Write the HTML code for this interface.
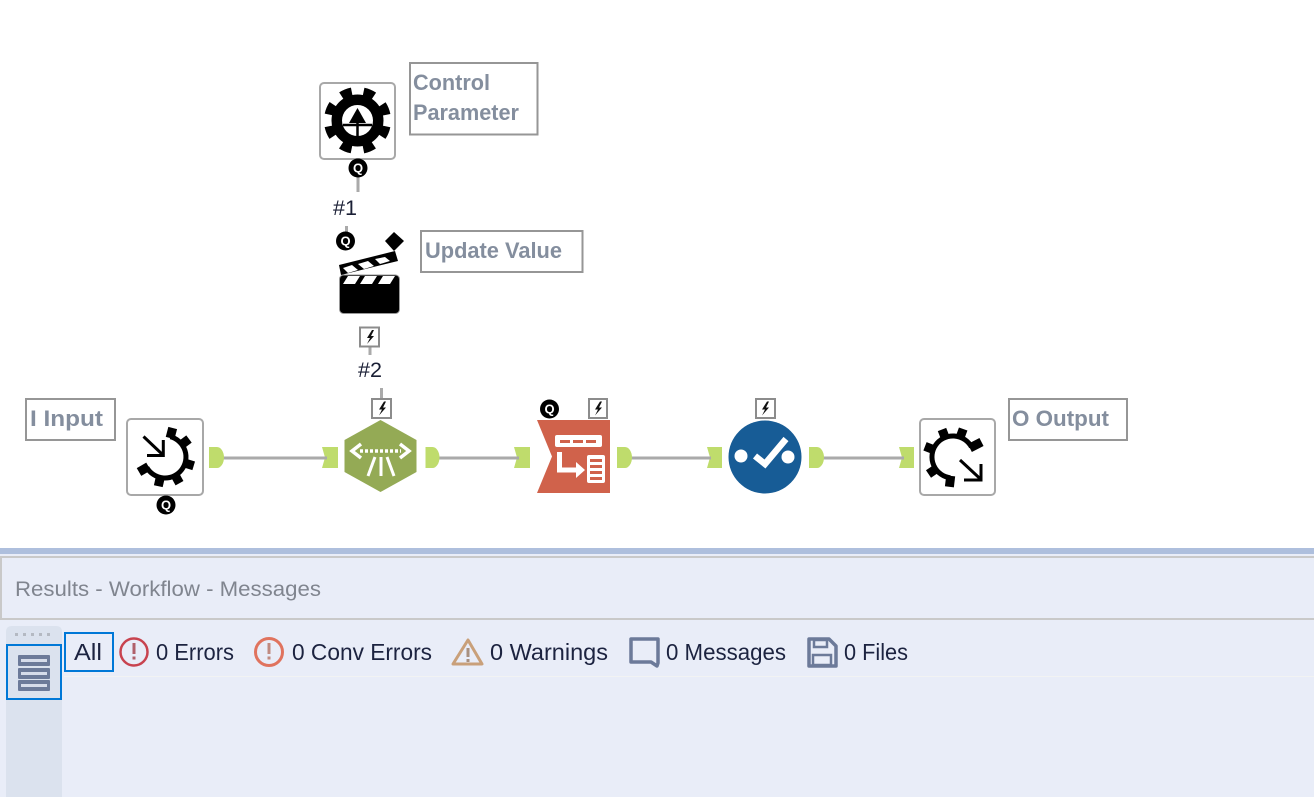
<!DOCTYPE html>
<html>
<head>
<meta charset="utf-8">
<style>
html,body{margin:0;padding:0;background:#fff;width:1314px;height:797px;overflow:hidden}
svg{display:block}
text{font-family:"Liberation Sans",sans-serif}
.lb{font-size:22px;font-weight:bold;fill:#848e9e}
.st{font-size:23px;fill:#1c2340}
.n{font-size:21px;fill:#1a1f35}
.q{font-size:13px;font-weight:bold;fill:#fff;text-anchor:middle}
</style>
</head>
<body>
<svg width="1314" height="797" viewBox="0 0 1314 797" xmlns="http://www.w3.org/2000/svg">
<rect width="1314" height="797" fill="#fff"/>

<!-- connectors -->
<g stroke="#aaaaaa" stroke-width="3" fill="none">
<line x1="222" y1="458" x2="327" y2="458"/>
<line x1="438" y1="458" x2="519" y2="458"/>
<line x1="631" y1="458" x2="711" y2="458"/>
<line x1="823" y1="458" x2="904" y2="458"/>
<line x1="358" y1="177" x2="358" y2="192"/>
<line x1="346.5" y1="226" x2="346.5" y2="233"/>
<line x1="370" y1="347" x2="370" y2="355"/>
<line x1="381.5" y1="388" x2="381.5" y2="399"/>
</g>

<!-- ports -->
<g fill="#bfdc6c">
<path d="M209 447h8a7 10.500 0 0 1 0 21h-8z"/>
<path d="M425.500 447h7a7 10.500 0 0 1 0 21h-7z"/>
<path d="M617 447h8a7 10.500 0 0 1 0 21h-8z"/>
<path d="M809 447h8a7 10.500 0 0 1 0 21h-8z"/>
<path d="M322 447h16v21h-16l3-10.500z"/>
<path d="M514 447h16v21h-16l3-10.500z"/>
<path d="M707 447h15v21h-15l3-10.500z"/>
<path d="M899 447h15v21h-15l3-10.500z"/>
</g>
<g stroke="#aaaaaa" stroke-width="3">
<line x1="322" y1="458" x2="327" y2="458"/>
<line x1="514" y1="458" x2="519" y2="458"/>
<line x1="707" y1="458" x2="711" y2="458"/>
<line x1="899" y1="458" x2="904" y2="458"/>
</g>

<!-- control parameter tool -->
<rect x="320" y="83" width="75" height="76" rx="4" fill="#fff" stroke="#a8a8a8" stroke-width="2"/>
<circle cx="357.500" cy="120.500" r="26" fill="#000"/>
<circle cx="357.500" cy="120.500" r="29" fill="none" stroke="#000" stroke-width="9" stroke-dasharray="11 11.770" transform="rotate(11.600 357.500 120.500)"/>
<circle cx="357.500" cy="120.500" r="15.500" fill="#fff"/>
<polygon points="357.500,108 366,123 349,123" fill="#000"/>
<g stroke="#000" stroke-width="2.500"><line x1="343" y1="125" x2="372" y2="125"/><line x1="357.500" y1="123" x2="357.500" y2="136"/></g>

<!-- clapperboard -->
<rect x="339.500" y="275" width="60" height="38.500" rx="4" fill="#000" stroke="#999" stroke-width="1"/>
<g fill="#fff">
<polygon points="343,284 348,276 360,276 355,284"/>
<polygon points="360,284 365,276 377,276 372,284"/>
<polygon points="378,284 383,276 395,276 390,284"/>
</g>
<polygon points="339,265 395,251 398,261 341,275" fill="#000"/>
<g fill="#fff">
<polygon points="343,268 352,265 358,270 348,273"/>
<polygon points="358,264 368,261 374,266 364,269"/>
<polygon points="375,259 385,257 390,261 380,264"/>
</g>
<polygon points="394,232 404,241 394,251 385,241" fill="#000"/>

<!-- hexagon -->
<polygon points="380.500,420 416.500,440 416.500,472 380.500,492 344.500,472 344.500,440" fill="#94aa55"/>
<g fill="none" stroke="#fff" stroke-width="3.500">
<polyline points="361,444 352,451 361,458"/>
<polyline points="400,444 409,451 400,458"/>
<line x1="360" y1="451" x2="401" y2="451" stroke-width="3.500" stroke-dasharray="3 2"/>
<line x1="375" y1="457" x2="368" y2="476" stroke-width="3"/>
<line x1="381" y1="457" x2="381" y2="476" stroke-width="3"/>
<line x1="387" y1="457" x2="394" y2="476" stroke-width="3"/>
</g>

<!-- red tool -->
<polygon points="537,420 610,420 610,493 537,493 552,456.500" fill="#d0624b"/>
<rect x="555" y="435" width="47" height="12" rx="2" fill="#fff"/>
<g fill="#d0624b"><rect x="560" y="440" width="10" height="3"/><rect x="573" y="440" width="10" height="3"/><rect x="586" y="440" width="10" height="3"/></g>
<polyline points="559.500,452 559.500,470 578,470" fill="none" stroke="#fff" stroke-width="5"/>
<polygon points="576,462 585,470 576,478" fill="#fff"/>
<rect x="587" y="455" width="18" height="28" rx="2" fill="#fff"/>
<g fill="#d0624b"><rect x="590" y="459" width="12" height="3"/><rect x="590" y="465" width="12" height="3"/><rect x="590" y="471" width="12" height="3"/><rect x="590" y="477" width="12" height="3"/></g>

<!-- blue tool -->
<circle cx="765" cy="457" r="36.500" fill="#175c96"/>
<circle cx="741" cy="456" r="6.500" fill="#fff"/>
<circle cx="788" cy="457" r="6.500" fill="#fff"/>
<polyline points="755,456 765,464 786,439" fill="none" stroke="#fff" stroke-width="6.500"/>

<!-- input gear -->
<rect x="127" y="419" width="76" height="76" rx="4" fill="#fff" stroke="#a8a8a8" stroke-width="2"/>
<path d="M170.400 436.700A21 21 0 1 1 146.800 467.500" fill="none" stroke="#000" stroke-width="5"/>
<g stroke="#000" stroke-width="9">
<line x1="170.100" y1="438" x2="172.700" y2="428"/>
<line x1="180.200" y1="445.600" x2="189" y2="439"/>
<line x1="183.200" y1="462.600" x2="193.700" y2="465.800"/>
<line x1="174.200" y1="473.600" x2="179.500" y2="483.200"/>
<line x1="160.700" y1="475.500" x2="158.300" y2="486.200"/>
<line x1="148.500" y1="466.500" x2="139" y2="472"/>
</g>
<g fill="none" stroke="#000" stroke-width="3">
<line x1="143.500" y1="436.500" x2="163" y2="455"/>
<polyline points="163.300,440 163.300,455.500 147,455.500"/>
</g>

<!-- output gear -->
<rect x="920" y="419" width="75" height="76" rx="4" fill="#fff" stroke="#a8a8a8" stroke-width="2"/>
<path d="M971.500 447.100A21 21 0 1 0 950.400 477.800" fill="none" stroke="#000" stroke-width="5"/>
<g stroke="#000" stroke-width="9">
<line x1="945.500" y1="438.500" x2="942" y2="429.500"/>
<line x1="959.800" y1="438.200" x2="963.200" y2="429"/>
<line x1="969.800" y1="448" x2="981.500" y2="442"/>
<line x1="935.300" y1="450.300" x2="925" y2="446.300"/>
<line x1="937.500" y1="467.900" x2="928.500" y2="474"/>
<line x1="950.700" y1="475.900" x2="949.400" y2="486.800"/>
</g>
<g fill="none" stroke="#000" stroke-width="3">
<line x1="960" y1="460" x2="981" y2="479.500"/>
<polyline points="981,464 981,480 964,480"/>
</g>

<!-- Q badges -->
<g fill="#000"><circle cx="358" cy="168" r="9.500"/><circle cx="345.500" cy="241" r="9.500"/><circle cx="549.500" cy="409" r="9.500"/><circle cx="166" cy="505" r="9.500"/></g>
<text class="q" x="358" y="172.500">Q</text>
<text class="q" x="345.500" y="245.500">Q</text>
<text class="q" x="549.500" y="413.500">Q</text>
<text class="q" x="166" y="509.500">Q</text>

<!-- bolt badges -->
<g fill="#fff" stroke="#8c8c8c" stroke-width="2">
<rect x="360" y="327.500" width="19" height="19"/>
<rect x="372" y="399" width="19" height="19"/>
<rect x="589" y="399" width="18" height="19"/>
<rect x="756" y="399" width="19" height="19"/>
</g>
<g fill="#111">
<polygon points="372,330 367,338 370,338 367,344 374,336 371,336 374,330"/>
<polygon points="384,401.500 379,409.500 382,409.500 379,415.500 386,407.500 383,407.500 386,401.500"/>
<polygon points="600,401.500 595,409.500 598,409.500 595,415.500 602,407.500 599,407.500 602,401.500"/>
<polygon points="767,401.500 762,409.500 765,409.500 762,415.500 769,407.500 766,407.500 769,401.500"/>
</g>

<!-- numbers -->
<text class="n" x="333" y="215" textLength="24" lengthAdjust="spacingAndGlyphs">#1</text>
<text class="n" x="358" y="377" textLength="24" lengthAdjust="spacingAndGlyphs">#2</text>

<!-- annotation boxes -->
<g fill="#fff" stroke="#969696" stroke-width="2">
<rect x="410" y="63" width="127.500" height="71.500"/>
<rect x="421" y="231" width="161.500" height="41"/>
<rect x="26" y="399" width="89" height="41"/>
<rect x="1009" y="399" width="118" height="41"/>
</g>
<text class="lb" x="413" y="90" textLength="77" lengthAdjust="spacingAndGlyphs">Control</text>
<text class="lb" x="413" y="120" textLength="106" lengthAdjust="spacingAndGlyphs">Parameter</text>
<text class="lb" x="425" y="258" textLength="137" lengthAdjust="spacingAndGlyphs">Update Value</text>
<text class="lb" x="30" y="426" textLength="73" lengthAdjust="spacingAndGlyphs">I Input</text>
<text class="lb" x="1012" y="426" textLength="97" lengthAdjust="spacingAndGlyphs">O Output</text>

<!-- bottom panel -->
<rect x="0" y="548" width="1314" height="249" fill="#e9edf8"/>
<rect x="0" y="548" width="1314" height="6" fill="#aebfdd"/>
<rect x="0" y="556" width="1314" height="2" fill="#c9c9c9"/>
<rect x="0" y="618" width="1314" height="2" fill="#c9c9c9"/>
<rect x="0" y="556" width="2" height="62" fill="#c9c9c9"/>
<text x="15" y="596" font-size="21" fill="#80858f" textLength="306" lengthAdjust="spacingAndGlyphs">Results - Workflow - Messages</text>

<path d="M6 797V632q0-6 6-6h44q6 0 6 6V797z" fill="#dbe2ee"/>
<g fill="#b4b9c2"><rect x="15" y="633" width="3" height="3"/><rect x="23" y="633" width="3" height="3"/><rect x="31" y="633" width="3" height="3"/><rect x="39" y="633" width="3" height="3"/><rect x="47" y="633" width="3" height="3"/></g>
<rect x="7" y="645" width="54" height="54" fill="none" stroke="#0078d7" stroke-width="2"/>
<g fill="#6c7a99">
<rect x="18" y="655" width="32" height="11" rx="1"/>
<rect x="18" y="668" width="32" height="11" rx="1"/>
<rect x="18" y="680" width="32" height="11" rx="1"/>
</g>
<g fill="#d6dcea">
<rect x="21" y="659" width="26" height="3"/>
<rect x="21" y="672" width="26" height="3"/>
<rect x="21" y="684" width="26" height="3"/>
</g>
<rect x="65" y="633" width="48" height="38" fill="none" stroke="#0078d7" stroke-width="2"/>
<rect x="64" y="676" width="1250" height="1" fill="#f2f3f3"/>

<text class="st" x="74" y="660" textLength="28" lengthAdjust="spacingAndGlyphs">All</text>
<text class="st" x="156" y="660" textLength="78" lengthAdjust="spacingAndGlyphs">0 Errors</text>
<text class="st" x="292" y="660" textLength="140" lengthAdjust="spacingAndGlyphs">0 Conv Errors</text>
<text class="st" x="490" y="660" textLength="118" lengthAdjust="spacingAndGlyphs">0 Warnings</text>
<text class="st" x="666" y="660" textLength="120" lengthAdjust="spacingAndGlyphs">0 Messages</text>
<text class="st" x="844" y="660" textLength="64" lengthAdjust="spacingAndGlyphs">0 Files</text>

<!-- status icons -->
<circle cx="134" cy="652" r="13.500" fill="none" stroke="#c8434f" stroke-width="2.500"/>
<rect x="132.500" y="643" width="3" height="11" fill="#b0606a"/><rect x="132.500" y="656.500" width="3" height="3" fill="#b0606a"/>
<circle cx="269" cy="652" r="13.500" fill="none" stroke="#e0735e" stroke-width="3"/>
<rect x="267.500" y="643" width="3" height="11" fill="#c08a80"/><rect x="267.500" y="656.500" width="3" height="3" fill="#c08a80"/>
<polygon points="468,640 482,664 453,664" fill="none" stroke="#c9a07a" stroke-width="3" stroke-linejoin="round"/>
<rect x="466.500" y="648" width="3" height="9" fill="#a89080"/><rect x="466.500" y="659" width="3" height="3" fill="#a89080"/>
<path d="M631 639h27v24l-1 3-6-4h-20z" fill="none" stroke="#6c7a99" stroke-width="3.500" stroke-linejoin="round"/>
<path d="M809 639h20l7 7v20h-27z" fill="none" stroke="#6c7a99" stroke-width="3.500" stroke-linejoin="round"/>
<rect x="814" y="640" width="13" height="7" fill="none" stroke="#6c7a99" stroke-width="2.500"/>
<rect x="813" y="655" width="18" height="10" fill="none" stroke="#6c7a99" stroke-width="2.500"/>
</svg>
</body>
</html>
